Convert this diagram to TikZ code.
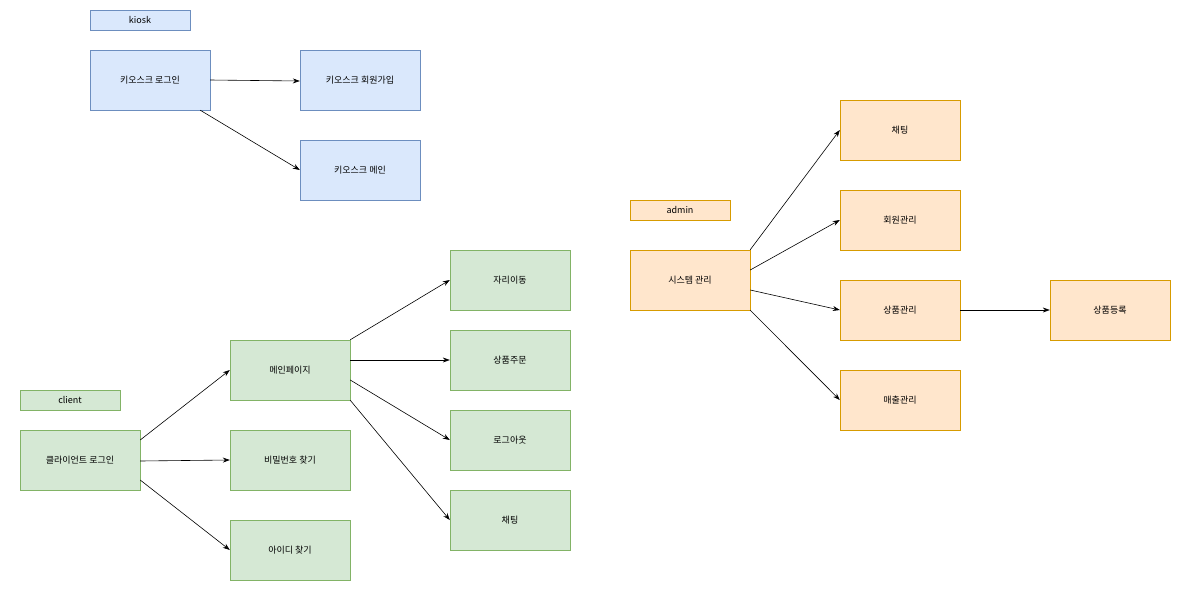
\documentclass[tikz,border=0pt]{standalone}
\usepackage{fontspec}
\setmainfont{Noto Sans CJK KR}
\usetikzlibrary{calc,arrows.meta}
\definecolor{bfill}{HTML}{DAE8FC}\definecolor{bline}{HTML}{6C8EBF}
\definecolor{gfill}{HTML}{D5E8D4}\definecolor{gline}{HTML}{82B366}
\definecolor{ofill}{HTML}{FFE6CC}\definecolor{oline}{HTML}{D79B00}
\begin{document}
\begin{tikzpicture}[x=1pt,y=-1pt,
  box/.style={draw,minimum width=120pt,minimum height=60pt,inner sep=0pt,font=\fontsize{9}{11}\selectfont},
  lab/.style={draw,minimum width=100pt,minimum height=20pt,inner sep=0pt,font=\fontsize{9}{11}\selectfont},
  bb/.style={fill=bfill,draw=bline},gg/.style={fill=gfill,draw=gline},oo/.style={fill=ofill,draw=oline},
  arr/.style={-{Stealth[length=7pt,width=5pt]},line width=0.6pt}]
\useasboundingbox (0,0) rectangle (1200,600);
\node[lab,bb] (lk) at (140,20) {kiosk};
\node[box,bb] (k1) at (150,80) {키오스크 로그인};
\node[box,bb] (k2) at (360,80) {키오스크 회원가입};
\node[box,bb] (k3) at (360,170) {키오스크 메인};
\node[lab,oo] (la) at (680,210) {admin};
\node[box,oo] (s) at (690,280) {시스템 관리};
\node[box,oo] (a1) at (900,130) {채팅};
\node[box,oo] (a2) at (900,220) {회원관리};
\node[box,oo] (a3) at (900,310) {상품관리};
\node[box,oo] (a4) at (1110,310) {상품등록};
\node[box,oo] (a5) at (900,400) {매출관리};
\node[lab,gg] (lc) at (70,400) {client};
\node[box,gg] (c) at (80,460) {클라이언트 로그인};
\node[box,gg] (m) at (290,370) {메인페이지};
\node[box,gg] (pw) at (290,460) {비밀번호 찾기};
\node[box,gg] (id) at (290,550) {아이디 찾기};
\node[box,gg] (g1) at (510,280) {자리이동};
\node[box,gg] (g2) at (510,360) {상품주문};
\node[box,gg] (g3) at (510,440) {로그아웃};
\node[box,gg] (g4) at (510,520) {채팅};
\draw[arr] (k1.east) -- ($(k2.west)+(0,1)$);
\draw[arr] ($(k1.south east)+(-10,0)$) -- (k3.west);
\draw[arr] (s.north east) -- (a1.west);
\draw[arr] ($(s.east)+(0,-10)$) -- (a2.west);
\draw[arr] ($(s.east)+(0,10)$) -- (a3.west);
\draw[arr] (s.south east) -- (a5.west);
\draw[arr] (a3.east) -- (a4.west);
\draw[arr] (m.north east) -- (g1.west);
\draw[arr] ($(m.east)+(0,-10)$) -- (g2.west);
\draw[arr] ($(m.east)+(0,10)$) -- (g3.west);
\draw[arr] (m.south east) -- (g4.west);
\draw[arr] ($(c.east)+(0,-20)$) -- (m.west);
\draw[arr] ($(c.east)+(0,1)$) -- (pw.west);
\draw[arr] ($(c.east)+(0,20)$) -- (id.west);
\end{tikzpicture}
\end{document}
